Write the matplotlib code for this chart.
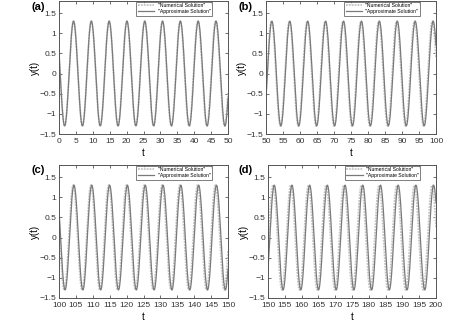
import numpy as np
import matplotlib
matplotlib.use("Agg")
import matplotlib.pyplot as plt

plt.rcParams['font.family'] = ['Liberation Sans', 'DejaVu Sans']

# values
panel_labels = ['(a)', '(b)', '(c)', '(d)']
t_ranges = [(0, 50), (50, 100), (100, 150), (150, 200)]
y_ticks = [-1.5, -1, -0.5, 0, 0.5, 1, 1.5]
y_tick_labels = ['\u22121.5', '\u22121', '\u22120.5', '0', '0.5', '1', '1.5']
legend_labels = ['"Numerical Solution"', '"Approximate Solution"']

amplitude = 1.3          # peak height of both curves
first_peak = 4.3         # time of first maximum
period_approx = 5.27     # approximate solution period
period_numeric = 5.258   # numerical solution period (slowly drifts ahead)

# axes boxes in figure pixels: left, top, right, bottom
boxes = [(59, 1, 228, 134), (266, 1, 436, 134),
         (59, 165, 228, 298), (268, 165, 436, 298)]
label_xy = [(32, 2), (239, 2), (31, 165), (239, 165)]

W, H = 474, 324
fig = plt.figure(figsize=(W / 100, H / 100), dpi=100)

for i in range(4):
    l, t, r, b = boxes[i]
    ax = fig.add_axes([l / W, 1 - b / H, (r - l) / W, (b - t) / H])
    t0, t1 = t_ranges[i]
    tt = np.linspace(t0, t1, 2000)
    y_num = amplitude * np.cos(2 * np.pi * (tt - first_peak) / period_numeric)
    y_app = amplitude * np.cos(2 * np.pi * (tt - first_peak) / period_approx)
    ax.plot(tt, y_num, color='#c4c4c4', lw=1.3, ls=(0, (1, 0.6)), label=legend_labels[0])
    ax.plot(tt, y_app, color='#7a7a7a', lw=0.9, label=legend_labels[1])
    ax.set_xlim(t0, t1)
    ax.set_ylim(-1.5, 1.8)
    ax.set_xticks(np.arange(t0, t1 + 1, 5))
    ax.set_yticks(y_ticks)
    ax.set_yticklabels(y_tick_labels)
    ax.tick_params(direction='in', top=True, right=True, length=2.5, width=0.5,
                   labelsize=6, colors='#333333')
    ax.tick_params(axis='x', pad=3)
    ax.tick_params(axis='y', pad=2)
    for s in ax.spines.values():
        s.set_linewidth(0.7)
        s.set_color('#555555')
    ax.set_xlabel('t', fontsize=7, labelpad=2)
    ax.set_ylabel('y(t)', fontsize=7, labelpad=0)
    leg = ax.legend(loc='upper right', bbox_to_anchor=(0.905, 0.995), fontsize=3.7,
                    frameon=True, fancybox=False, borderpad=0.3, handlelength=3.2,
                    handletextpad=0.6, labelspacing=0.15, borderaxespad=0)
    leg.get_frame().set_edgecolor('#444444')
    leg.get_frame().set_linewidth(0.6)
    fig.text(label_xy[i][0] / W, 1 - label_xy[i][1] / H, panel_labels[i],
             fontsize=8, fontweight='bold', va='top', ha='left')

fig.savefig('out.png', dpi=100)
